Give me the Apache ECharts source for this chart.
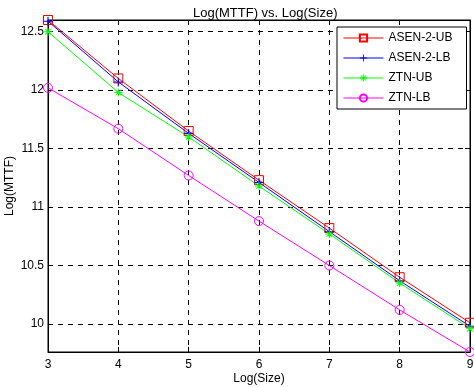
<!DOCTYPE html>
<html><head><meta charset="utf-8">
<script src="https://cdn.jsdelivr.net/npm/echarts@6/dist/echarts.min.js"></script>
<style>html,body{margin:0;padding:0;background:#fff}#c{width:474px;height:387px}</style>
</head><body><div id="c"></div>
<script>
var xValues = [3, 4, 5, 6, 7, 8, 9];
var asenUB = [12.60, 12.10, 11.65, 11.23, 10.82, 10.40, 10.01];
var asenLB = [12.59, 12.07, 11.63, 11.21, 10.79, 10.37, 9.98];
var ztnUB  = [12.50, 11.98, 11.60, 11.18, 10.77, 10.35, 9.96];
var ztnLB  = [12.02, 11.67, 11.27, 10.88, 10.50, 10.12, 9.76];
var yTicks = [10, 10.5, 11, 11.5, 12, 12.5];
var yMin = 9.76, yMax = 12.6;

var FONT = 'Liberation Sans, Arial, sans-serif';
function pairs(ys){ return xValues.map(function(x,i){return [x, ys[i]];}); }
var plusPath = 'path://M4.4,0H5.6V4.4H10V5.6H5.6V10H4.4V5.6H0V4.4H4.4Z';
var starPath = 'path://M4.4,0H5.6V4.4H10V5.6H5.6V10H4.4V5.6H0V4.4H4.4Z M1.2,2L2,1.2L8.8,8L8,8.8Z M8,1.2L8.8,2L2,8.8L1.2,8Z';
function ser(name, data, color, symbol, size, filled){
  return {
    name: name, type: 'line', data: pairs(data), symbol: symbol, symbolSize: size,
    showAllSymbol: true,
    lineStyle: {color: color, width: 1},
    itemStyle: filled ? {color: color, borderWidth: 0} : {color: 'transparent', borderColor: color, borderWidth: 1},
    color: color, animation: false, z: 3
  };
}
var chart = echarts.init(document.getElementById('c'), null, {renderer: 'canvas'});
chart.setOption({
  animation: false,
  backgroundColor: '#fff',
  title: {text: 'Log(MTTF) vs. Log(Size)', left: 188, top: 2,
    textStyle: {fontFamily: FONT, fontSize: 13, fontWeight: 'normal', color: '#000'}},
  grid: {left: 48, right: 4, top: 20, bottom: 35, show: true, borderColor: '#000', borderWidth: 1,
    backgroundColor: 'transparent', containLabel: false, outerBoundsMode: 'none'},
  legend: {
    orient: 'vertical', left: 337, top: 27, width: 133,
    backgroundColor: '#fff', borderColor: '#000', borderWidth: 1,
    padding: [5, 14, 5, 6], itemGap: 8, itemWidth: 40, itemHeight: 9,
    lineStyle: {width: 1},
    textStyle: {fontFamily: FONT, fontSize: 12, color: '#000'},
    data: ['ASEN-2-UB', 'ASEN-2-LB', 'ZTN-UB', 'ZTN-LB']
  },
  xAxis: [{
    type: 'value', min: 3, max: 9, interval: 1,
    name: 'Log(Size)', nameLocation: 'middle', nameGap: 21, nameMoveOverlap: false,
    nameTextStyle: {fontFamily: FONT, fontSize: 12, color: '#000'},
    axisLine: {show: true, lineStyle: {color: '#000'}},
    axisTick: {show: true, inside: true, length: 5, lineStyle: {color: '#000'}},
    axisLabel: {fontFamily: FONT, fontSize: 12, color: '#000', margin: 7},
    splitLine: {show: true, lineStyle: {color: '#000', type: [5, 5], width: 1}}
  }, {
    type: 'value', position: 'top', min: 3, max: 9, interval: 1,
    axisLine: {show: true, lineStyle: {color: '#000'}},
    axisTick: {show: true, inside: true, length: 5, lineStyle: {color: '#000'}},
    axisLabel: {show: false}, splitLine: {show: false}
  }],
  yAxis: [{
    type: 'value', min: yMin, max: yMax,
    name: 'Log(MTTF)', nameLocation: 'middle', nameGap: 32, nameMoveOverlap: false,
    nameTextStyle: {fontFamily: FONT, fontSize: 12, color: '#000'},
    axisLine: {show: true, lineStyle: {color: '#000'}},
    axisTick: {show: true, inside: true, length: 5, customValues: yTicks, lineStyle: {color: '#000'}},
    axisLabel: {fontFamily: FONT, fontSize: 12, color: '#000', margin: 4, customValues: yTicks},
    splitLine: {show: true, lineStyle: {color: '#000', type: [5, 5], width: 1}}
  }, {
    type: 'value', position: 'right', min: yMin, max: yMax,
    axisLine: {show: true, lineStyle: {color: '#000'}},
    axisTick: {show: true, inside: true, length: 5, customValues: yTicks, lineStyle: {color: '#000'}},
    axisLabel: {show: false}, splitLine: {show: false}
  }],
  series: [
    ser('ASEN-2-UB', asenUB, '#ff0000', 'rect', 9, false),
    ser('ASEN-2-LB', asenLB, '#0000ff', plusPath, 9, true),
    ser('ZTN-UB', ztnUB, '#00ff00', starPath, 8, true),
    ser('ZTN-LB', ztnLB, '#ff00ff', 'circle', 9, false)
  ]
});
</script></body></html>
